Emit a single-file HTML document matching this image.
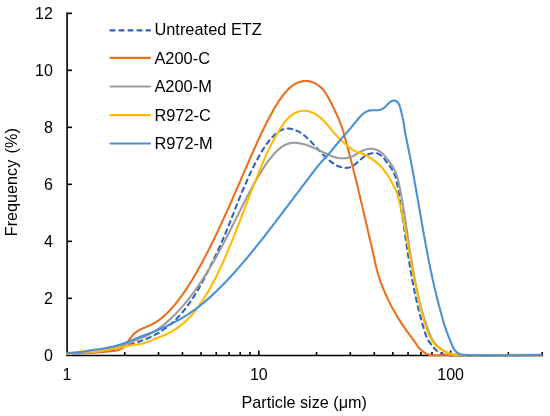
<!DOCTYPE html>
<html><head><meta charset="utf-8"><style>html,body{margin:0;padding:0;background:#fff;width:550px;height:416px;overflow:hidden}svg{display:block}</style></head>
<body><svg width="550" height="416" viewBox="0 0 550 416">
<rect width="550" height="416" fill="#fff"/>
<g stroke="#000" stroke-width="1.6" fill="none" shape-rendering="auto">
<path d="M67.1,12.55 V355.5 H543"/>
<path d="M67.1,298.35 H72"/>
<path d="M67.1,241.35 H72"/>
<path d="M67.1,184.35 H72"/>
<path d="M67.1,127.35 H72"/>
<path d="M67.1,70.35 H72"/>
<path d="M67.1,13.35 H72"/>
<path d="M124.74,355.5 V352.00"/>
<path d="M158.51,355.5 V352.00"/>
<path d="M182.48,355.5 V352.00"/>
<path d="M201.06,355.5 V352.00"/>
<path d="M216.25,355.5 V352.00"/>
<path d="M229.09,355.5 V352.00"/>
<path d="M240.21,355.5 V352.00"/>
<path d="M250.02,355.5 V352.00"/>
<path d="M258.80,355.5 V350.50"/>
<path d="M316.54,355.5 V352.00"/>
<path d="M350.31,355.5 V352.00"/>
<path d="M374.28,355.5 V352.00"/>
<path d="M392.86,355.5 V352.00"/>
<path d="M408.05,355.5 V352.00"/>
<path d="M420.89,355.5 V352.00"/>
<path d="M432.01,355.5 V352.00"/>
<path d="M441.82,355.5 V352.00"/>
<path d="M450.60,355.5 V350.50"/>
<path d="M508.34,355.5 V352.00"/>
<path d="M542.11,355.5 V352.00"/>
</g>
<g font-family="&quot;Liberation Sans&quot;, Arial, sans-serif" font-size="16" fill="#000">
<text x="52.8" y="361.05" text-anchor="end">0</text>
<text x="52.8" y="304.05" text-anchor="end">2</text>
<text x="52.8" y="247.05" text-anchor="end">4</text>
<text x="52.8" y="190.05" text-anchor="end">6</text>
<text x="52.8" y="133.05" text-anchor="end">8</text>
<text x="52.8" y="76.05" text-anchor="end">10</text>
<text x="52.8" y="19.05" text-anchor="end">12</text>
<text x="67.00" y="379.6" text-anchor="middle">1</text>
<text x="258.80" y="379.6" text-anchor="middle">10</text>
<text x="450.60" y="379.6" text-anchor="middle">100</text>
<text x="304.2" y="407.8" text-anchor="middle" font-size="16.2">Particle size (μm)</text>
<text transform="translate(17.3,182.2) rotate(-90)" text-anchor="middle" font-size="16.2">Frequency <tspan dx="1.8">(%)</tspan></text>
</g>
<g fill="none" stroke-width="2.1" stroke-linejoin="round" stroke-linecap="round">
<path d="M67.4,353.5 L68.9,353.5 L70.4,353.5 L71.9,353.5 L73.4,353.4 L74.9,353.4 L76.4,353.4 L77.9,353.4 L79.4,353.3 L80.9,353.2 L82.4,353.2 L83.9,353.1 L85.4,352.9 L86.9,352.8 L88.4,352.7 L89.9,352.5 L91.4,352.4 L92.8,352.2 L94.3,352.0 L95.8,351.9 L97.3,351.7 L98.8,351.5 L100.3,351.3 L101.8,351.0 L103.2,350.8 L104.7,350.5 L106.2,350.2 L107.7,350.0 L109.1,349.7 L110.6,349.4 L112.1,349.1 L113.6,348.8 L115.0,348.5 L116.5,348.1 L117.9,347.8 L119.4,347.4 L120.9,347.1 L122.3,346.7 L123.8,346.3 L125.2,345.9 L126.6,345.5 L128.1,345.1 L129.5,344.6 L131.0,344.2 L132.4,343.7 L133.8,343.3 L135.2,342.8 L136.7,342.4 L138.1,341.9 L139.5,341.4 L140.9,340.9 L142.3,340.4 L143.7,339.8 L145.1,339.3 L146.5,338.7 L147.9,338.2 L149.3,337.6 L150.6,336.9 L152.0,336.3 L153.3,335.6 L154.7,334.9 L156.0,334.2 L157.3,333.5 L158.6,332.8 L159.9,332.0 L161.2,331.2 L162.4,330.4 L163.7,329.5 L164.9,328.7 L166.1,327.8 L167.3,326.9 L168.5,325.9 L169.6,325.0 L170.8,324.0 L171.9,323.0 L173.0,322.0 L174.1,321.0 L175.2,320.0 L176.3,318.9 L177.3,317.9 L178.4,316.8 L179.4,315.7 L180.4,314.6 L181.4,313.4 L182.4,312.3 L183.3,311.1 L184.3,310.0 L185.2,308.8 L186.1,307.6 L187.0,306.4 L187.9,305.2 L188.8,304.0 L189.7,302.8 L190.5,301.5 L191.4,300.3 L192.2,299.1 L193.0,297.8 L193.8,296.5 L194.7,295.3 L195.4,294.0 L196.2,292.7 L197.0,291.5 L197.8,290.2 L198.5,288.9 L199.3,287.6 L200.0,286.3 L200.8,285.0 L201.5,283.6 L202.2,282.3 L202.9,281.0 L203.6,279.7 L204.3,278.3 L205.0,277.0 L205.7,275.7 L206.3,274.3 L207.0,273.0 L207.7,271.7 L208.4,270.3 L209.0,269.0 L209.7,267.6 L210.3,266.3 L211.0,264.9 L211.6,263.6 L212.3,262.2 L213.0,260.9 L213.6,259.5 L214.3,258.2 L214.9,256.8 L215.6,255.5 L216.2,254.1 L216.8,252.8 L217.5,251.4 L218.1,250.0 L218.7,248.7 L219.4,247.3 L220.0,246.0 L220.6,244.6 L221.2,243.2 L221.8,241.8 L222.4,240.5 L223.0,239.1 L223.6,237.7 L224.2,236.3 L224.8,235.0 L225.4,233.6 L225.9,232.2 L226.5,230.8 L227.1,229.4 L227.7,228.0 L228.2,226.6 L228.8,225.2 L229.3,223.8 L229.9,222.4 L230.4,221.1 L231.0,219.7 L231.5,218.3 L232.1,216.9 L232.6,215.5 L233.2,214.1 L233.7,212.7 L234.3,211.3 L234.8,209.9 L235.4,208.5 L235.9,207.1 L236.5,205.7 L237.0,204.3 L237.6,202.9 L238.2,201.5 L238.7,200.1 L239.3,198.7 L239.8,197.4 L240.4,196.0 L241.0,194.6 L241.5,193.2 L242.1,191.8 L242.7,190.4 L243.3,189.0 L243.9,187.7 L244.5,186.3 L245.1,184.9 L245.7,183.5 L246.3,182.2 L246.9,180.8 L247.5,179.4 L248.1,178.0 L248.7,176.7 L249.3,175.3 L250.0,174.0 L250.6,172.6 L251.3,171.2 L251.9,169.9 L252.6,168.5 L253.2,167.2 L253.9,165.9 L254.6,164.5 L255.3,163.2 L256.0,161.9 L256.7,160.5 L257.4,159.2 L258.1,157.9 L258.8,156.6 L259.6,155.3 L260.3,154.0 L261.1,152.7 L261.8,151.4 L262.6,150.1 L263.4,148.9 L264.2,147.6 L265.1,146.3 L265.9,145.1 L266.8,143.9 L267.7,142.7 L268.6,141.5 L269.5,140.3 L270.5,139.2 L271.5,138.0 L272.5,136.9 L273.5,135.9 L274.6,134.8 L275.7,133.8 L276.9,132.9 L278.1,132.0 L279.4,131.1 L280.7,130.4 L282.0,129.8 L283.4,129.2 L284.9,128.9 L286.3,128.6 L287.8,128.5 L289.3,128.6 L290.8,128.8 L292.3,129.1 L293.7,129.5 L295.1,130.0 L296.5,130.6 L297.9,131.2 L299.2,131.9 L300.5,132.7 L301.7,133.5 L302.9,134.4 L304.1,135.3 L305.3,136.3 L306.4,137.3 L307.5,138.3 L308.6,139.3 L309.7,140.4 L310.7,141.4 L311.8,142.5 L312.8,143.6 L313.8,144.7 L314.9,145.8 L315.9,146.9 L316.9,148.0 L317.9,149.1 L318.9,150.2 L319.9,151.3 L321.0,152.4 L322.0,153.5 L323.0,154.6 L324.1,155.7 L325.1,156.7 L326.2,157.7 L327.3,158.7 L328.5,159.7 L329.6,160.7 L330.8,161.6 L332.0,162.5 L333.3,163.3 L334.5,164.2 L335.8,165.0 L337.1,165.7 L338.5,166.3 L339.9,166.8 L341.3,167.3 L342.8,167.6 L344.2,167.8 L345.7,167.9 L347.2,167.8 L348.7,167.6 L350.2,167.2 L351.6,166.7 L352.9,165.9 L354.1,165.1 L355.3,164.2 L356.4,163.2 L357.6,162.3 L358.8,161.3 L359.9,160.3 L361.0,159.3 L362.1,158.3 L363.2,157.3 L364.4,156.4 L365.6,155.5 L367.0,154.8 L368.3,154.3 L369.8,153.8 L371.2,153.5 L372.7,153.2 L374.2,153.0 L375.7,153.1 L377.1,153.4 L378.5,154.0 L379.8,154.7 L381.0,155.6 L382.1,156.6 L383.2,157.6 L384.2,158.7 L385.1,159.9 L386.0,161.1 L386.9,162.3 L387.8,163.6 L388.7,164.8 L389.6,165.9 L390.5,167.1 L391.4,168.4 L392.2,169.6 L392.9,170.9 L393.6,172.2 L394.2,173.6 L394.8,175.0 L395.3,176.4 L395.8,177.8 L396.2,179.3 L396.5,180.7 L396.8,182.2 L397.1,183.7 L397.4,185.2 L397.6,186.6 L397.9,188.1 L398.1,189.6 L398.4,191.1 L398.6,192.6 L398.9,194.0 L399.1,195.5 L399.4,197.0 L399.6,198.5 L399.8,200.0 L400.1,201.4 L400.3,202.9 L400.6,204.4 L400.8,205.9 L401.0,207.4 L401.3,208.8 L401.5,210.3 L401.7,211.8 L401.9,213.3 L402.2,214.8 L402.4,216.3 L402.6,217.7 L402.8,219.2 L403.0,220.7 L403.3,222.2 L403.5,223.7 L403.7,225.2 L403.9,226.6 L404.1,228.1 L404.4,229.6 L404.6,231.1 L404.8,232.6 L405.0,234.1 L405.2,235.6 L405.4,237.0 L405.6,238.5 L405.9,240.0 L406.1,241.5 L406.3,243.0 L406.5,244.5 L406.7,245.9 L407.0,247.4 L407.2,248.9 L407.4,250.4 L407.6,251.9 L407.9,253.4 L408.1,254.8 L408.3,256.3 L408.6,257.8 L408.8,259.3 L409.0,260.8 L409.3,262.2 L409.5,263.7 L409.8,265.2 L410.0,266.7 L410.2,268.2 L410.5,269.6 L410.7,271.1 L411.0,272.6 L411.3,274.1 L411.5,275.6 L411.8,277.0 L412.0,278.5 L412.3,280.0 L412.6,281.5 L412.9,282.9 L413.1,284.4 L413.4,285.9 L413.7,287.4 L414.0,288.8 L414.3,290.3 L414.6,291.8 L414.9,293.2 L415.2,294.7 L415.5,296.2 L415.8,297.6 L416.2,299.1 L416.5,300.6 L416.8,302.0 L417.2,303.5 L417.5,304.9 L417.8,306.4 L418.2,307.9 L418.5,309.3 L418.9,310.8 L419.3,312.2 L419.6,313.7 L420.0,315.1 L420.4,316.6 L420.8,318.0 L421.2,319.5 L421.6,320.9 L422.0,322.4 L422.4,323.8 L422.8,325.3 L423.2,326.7 L423.6,328.2 L424.0,329.6 L424.5,331.0 L424.9,332.5 L425.4,333.9 L426.0,335.3 L426.5,336.7 L427.1,338.1 L427.8,339.4 L428.5,340.7 L429.3,342.0 L430.2,343.2 L431.1,344.4 L432.0,345.6 L433.0,346.7 L433.9,347.9 L435.0,348.9 L436.1,350.0 L437.2,351.0 L438.4,351.9 L439.6,352.7 L440.9,353.4 L442.3,354.0 L443.7,354.5 L445.2,354.9 L446.7,355.1 L448.2,355.2 L449.6,355.3 L451.1,355.4 L452.6,355.5 L454.1,355.5 L455.6,355.6 L457.1,355.6 L458.6,355.6 L460.1,355.7 L461.6,355.7 L463.1,355.7 L464.6,355.7 L466.1,355.7 L467.6,355.7 L469.1,355.7 L470.6,355.7 L472.1,355.7 L473.6,355.7 L475.1,355.7 L476.6,355.7 L478.1,355.7 L479.6,355.7 L481.1,355.6 L482.6,355.6 L484.1,355.6 L485.6,355.6 L487.1,355.6 L488.6,355.6 L490.1,355.6 L491.6,355.5 L493.1,355.5 L494.6,355.5 L496.1,355.5 L497.6,355.5 L499.1,355.4 L500.6,355.4 L502.1,355.4 L503.6,355.4 L505.1,355.4 L506.6,355.3 L508.1,355.3 L509.6,355.3 L511.1,355.3 L512.6,355.3 L514.1,355.2 L515.6,355.2 L517.1,355.2 L518.6,355.2 L520.1,355.2 L521.6,355.1 L523.1,355.1 L524.6,355.1 L526.1,355.1 L527.6,355.1 L529.1,355.1 L530.6,355.1 L532.1,355.0 L533.6,355.0 L535.1,355.0 L536.6,355.0 L538.1,355.0 L539.6,355.0 L541.1,355.0" stroke="#3164BE" stroke-dasharray="4.5 4.5"/>
<path d="M67.4,353.3 L68.9,353.3 L70.4,353.3 L71.9,353.3 L73.4,353.3 L74.9,353.3 L76.4,353.2 L77.9,353.2 L79.4,353.2 L80.9,353.2 L82.4,353.2 L83.9,353.2 L85.4,353.1 L86.9,353.1 L88.4,353.1 L89.9,353.0 L91.4,352.9 L92.9,352.8 L94.4,352.7 L95.9,352.6 L97.4,352.4 L98.9,352.3 L100.4,352.2 L101.9,352.0 L103.3,351.9 L104.8,351.7 L106.3,351.6 L107.8,351.4 L109.3,351.3 L110.8,351.1 L112.3,351.0 L113.8,350.9 L115.3,350.7 L116.8,350.5 L118.2,350.1 L119.6,349.6 L121.0,348.9 L122.3,348.2 L123.5,347.3 L124.6,346.3 L125.5,345.1 L126.5,343.9 L127.3,342.7 L128.1,341.4 L128.9,340.2 L129.7,338.9 L130.6,337.7 L131.6,336.6 L132.6,335.4 L133.6,334.4 L134.7,333.4 L135.9,332.4 L137.1,331.5 L138.4,330.7 L139.7,329.9 L141.0,329.2 L142.3,328.6 L143.7,328.0 L145.1,327.4 L146.5,326.8 L147.8,326.2 L149.2,325.6 L150.6,325.0 L151.9,324.4 L153.3,323.7 L154.6,322.9 L155.9,322.2 L157.1,321.4 L158.4,320.5 L159.6,319.6 L160.8,318.7 L162.0,317.8 L163.1,316.8 L164.2,315.9 L165.3,314.8 L166.4,313.8 L167.5,312.7 L168.5,311.7 L169.6,310.6 L170.6,309.5 L171.6,308.4 L172.6,307.2 L173.6,306.1 L174.5,305.0 L175.5,303.8 L176.4,302.7 L177.4,301.5 L178.3,300.3 L179.2,299.1 L180.1,297.9 L181.0,296.7 L181.9,295.5 L182.8,294.3 L183.6,293.0 L184.5,291.8 L185.3,290.6 L186.2,289.3 L187.0,288.1 L187.8,286.8 L188.6,285.5 L189.4,284.3 L190.2,283.0 L191.0,281.7 L191.8,280.5 L192.6,279.2 L193.3,277.9 L194.1,276.6 L194.9,275.3 L195.6,274.0 L196.4,272.7 L197.1,271.4 L197.9,270.1 L198.6,268.8 L199.3,267.5 L200.0,266.2 L200.8,264.9 L201.5,263.5 L202.2,262.2 L202.9,260.9 L203.6,259.6 L204.3,258.3 L205.0,256.9 L205.7,255.6 L206.4,254.3 L207.1,252.9 L207.8,251.6 L208.5,250.3 L209.1,248.9 L209.8,247.6 L210.5,246.2 L211.1,244.9 L211.8,243.6 L212.5,242.2 L213.1,240.9 L213.8,239.5 L214.4,238.2 L215.1,236.8 L215.7,235.5 L216.4,234.1 L217.0,232.8 L217.7,231.4 L218.3,230.0 L219.0,228.7 L219.6,227.3 L220.2,226.0 L220.9,224.6 L221.5,223.3 L222.1,221.9 L222.8,220.5 L223.4,219.2 L224.0,217.8 L224.6,216.4 L225.3,215.1 L225.9,213.7 L226.5,212.3 L227.1,211.0 L227.7,209.6 L228.4,208.2 L229.0,206.9 L229.6,205.5 L230.2,204.1 L230.8,202.8 L231.4,201.4 L232.0,200.0 L232.6,198.6 L233.2,197.3 L233.8,195.9 L234.4,194.5 L235.0,193.2 L235.6,191.8 L236.2,190.4 L236.8,189.0 L237.4,187.7 L238.0,186.3 L238.6,184.9 L239.2,183.5 L239.8,182.2 L240.4,180.8 L241.0,179.4 L241.6,178.0 L242.2,176.6 L242.8,175.3 L243.4,173.9 L244.0,172.5 L244.6,171.1 L245.2,169.8 L245.8,168.4 L246.4,167.0 L247.0,165.6 L247.6,164.2 L248.2,162.9 L248.7,161.5 L249.3,160.1 L249.9,158.7 L250.5,157.4 L251.1,156.0 L251.7,154.6 L252.3,153.2 L253.0,151.9 L253.6,150.5 L254.2,149.1 L254.8,147.8 L255.4,146.4 L256.0,145.0 L256.6,143.7 L257.2,142.3 L257.9,140.9 L258.5,139.6 L259.1,138.2 L259.8,136.8 L260.4,135.5 L261.0,134.1 L261.7,132.8 L262.3,131.4 L263.0,130.1 L263.6,128.7 L264.3,127.4 L264.9,126.0 L265.6,124.7 L266.3,123.3 L266.9,122.0 L267.6,120.7 L268.3,119.3 L269.0,118.0 L269.7,116.7 L270.4,115.4 L271.2,114.0 L271.9,112.7 L272.6,111.4 L273.4,110.1 L274.1,108.8 L274.9,107.5 L275.6,106.2 L276.4,105.0 L277.2,103.7 L278.0,102.4 L278.9,101.2 L279.7,99.9 L280.5,98.7 L281.4,97.5 L282.3,96.3 L283.2,95.1 L284.2,93.9 L285.1,92.7 L286.1,91.6 L287.1,90.5 L288.1,89.4 L289.2,88.4 L290.3,87.4 L291.5,86.4 L292.7,85.5 L293.9,84.7 L295.2,83.9 L296.5,83.2 L297.9,82.6 L299.3,82.1 L300.8,81.7 L302.2,81.4 L303.7,81.1 L305.2,81.0 L306.7,81.0 L308.2,81.1 L309.7,81.3 L311.1,81.7 L312.6,82.2 L313.9,82.7 L315.3,83.4 L316.6,84.2 L317.8,85.0 L319.0,85.9 L320.2,86.8 L321.3,87.8 L322.4,88.9 L323.4,90.0 L324.3,91.1 L325.2,92.4 L326.0,93.6 L326.8,94.9 L327.5,96.2 L328.3,97.5 L329.0,98.8 L329.7,100.2 L330.4,101.5 L331.1,102.8 L331.8,104.2 L332.4,105.5 L333.1,106.8 L333.7,108.2 L334.4,109.6 L335.0,110.9 L335.6,112.3 L336.3,113.6 L336.9,115.0 L337.5,116.4 L338.1,117.7 L338.7,119.1 L339.3,120.5 L339.8,121.9 L340.4,123.3 L340.9,124.7 L341.5,126.1 L342.0,127.5 L342.5,128.9 L342.9,130.3 L343.4,131.8 L343.7,133.2 L344.1,134.7 L344.5,136.1 L344.9,137.6 L345.3,139.0 L345.7,140.5 L346.1,141.9 L346.5,143.4 L346.9,144.8 L347.3,146.3 L347.7,147.7 L348.1,149.2 L348.5,150.6 L348.9,152.0 L349.2,153.5 L349.6,154.9 L350.0,156.4 L350.4,157.8 L350.8,159.3 L351.1,160.8 L351.5,162.2 L351.9,163.7 L352.3,165.1 L352.6,166.6 L353.0,168.0 L353.4,169.5 L353.7,170.9 L354.1,172.4 L354.5,173.8 L354.8,175.3 L355.2,176.8 L355.5,178.2 L355.9,179.7 L356.3,181.1 L356.6,182.6 L357.0,184.0 L357.3,185.5 L357.7,187.0 L358.0,188.4 L358.4,189.9 L358.7,191.3 L359.1,192.8 L359.4,194.2 L359.8,195.7 L360.1,197.2 L360.4,198.6 L360.8,200.1 L361.1,201.5 L361.5,203.0 L361.8,204.5 L362.2,205.9 L362.5,207.4 L362.8,208.8 L363.2,210.3 L363.5,211.8 L363.9,213.2 L364.2,214.7 L364.5,216.2 L364.9,217.6 L365.2,219.1 L365.6,220.5 L365.9,222.0 L366.2,223.5 L366.6,224.9 L366.9,226.4 L367.3,227.8 L367.6,229.3 L367.9,230.8 L368.3,232.2 L368.6,233.7 L369.0,235.1 L369.3,236.6 L369.6,238.1 L370.0,239.5 L370.3,241.0 L370.7,242.4 L371.0,243.9 L371.4,245.4 L371.7,246.8 L372.1,248.3 L372.4,249.8 L372.7,251.2 L373.0,252.7 L373.3,254.1 L373.6,255.6 L374.0,257.1 L374.3,258.6 L374.6,260.0 L374.9,261.5 L375.2,263.0 L375.5,264.4 L375.9,265.9 L376.2,267.3 L376.6,268.8 L377.0,270.2 L377.4,271.7 L377.8,273.1 L378.3,274.6 L378.7,276.0 L379.2,277.4 L379.6,278.8 L380.1,280.3 L380.6,281.7 L381.1,283.1 L381.7,284.5 L382.2,285.9 L382.7,287.3 L383.3,288.7 L383.9,290.1 L384.4,291.5 L385.0,292.8 L385.6,294.2 L386.2,295.6 L386.9,296.9 L387.5,298.3 L388.1,299.7 L388.8,301.0 L389.5,302.4 L390.1,303.7 L390.8,305.0 L391.5,306.4 L392.2,307.7 L392.9,309.0 L393.7,310.3 L394.4,311.6 L395.1,312.9 L395.9,314.2 L396.7,315.5 L397.4,316.8 L398.2,318.1 L399.0,319.3 L399.8,320.6 L400.6,321.9 L401.4,323.1 L402.2,324.4 L403.1,325.6 L403.9,326.9 L404.8,328.1 L405.6,329.4 L406.5,330.6 L407.4,331.8 L408.2,333.0 L409.1,334.2 L410.0,335.4 L410.9,336.6 L411.8,337.9 L412.7,339.1 L413.6,340.3 L414.5,341.5 L415.3,342.7 L416.2,343.9 L417.0,345.2 L417.9,346.4 L418.8,347.6 L419.7,348.7 L420.8,349.8 L421.9,350.8 L423.1,351.7 L424.3,352.6 L425.6,353.3 L427.0,354.0 L428.4,354.5 L429.8,354.9 L431.3,355.1 L432.8,355.2 L434.3,355.2 L435.8,355.2 L437.3,355.2 L438.8,355.2 L440.3,355.2 L441.8,355.2 L443.3,355.2 L444.8,355.2 L446.3,355.2 L447.8,355.2 L449.3,355.2 L450.8,355.2 L452.3,355.3 L453.8,355.3 L455.3,355.3 L456.8,355.3 L458.3,355.3 L459.8,355.3 L461.3,355.3 L462.8,355.3 L464.3,355.3 L465.8,355.2 L467.3,355.2 L468.8,355.2 L470.3,355.2 L471.8,355.2 L473.3,355.2 L474.8,355.2 L476.3,355.2 L477.8,355.2 L479.3,355.2 L480.8,355.2 L482.3,355.2 L483.8,355.2 L485.3,355.2 L486.8,355.2 L488.3,355.2 L489.8,355.2 L491.3,355.2 L492.8,355.2 L494.3,355.2 L495.8,355.2 L497.3,355.2 L498.8,355.2 L500.3,355.2 L501.8,355.2 L503.3,355.2 L504.8,355.2 L506.3,355.2 L507.8,355.2 L509.3,355.2 L510.8,355.2 L512.3,355.2 L513.8,355.2 L515.3,355.1 L516.8,355.1 L518.3,355.1 L519.8,355.1 L521.3,355.1 L522.8,355.1 L524.3,355.1 L525.8,355.1 L527.3,355.1 L528.8,355.1 L530.3,355.1 L531.8,355.1 L533.3,355.1 L534.8,355.1 L536.3,355.1 L537.8,355.1 L539.3,355.1 L540.8,355.1 L541.3,355.1" stroke="#EB701C"/>
<path d="M67.4,353.6 L68.9,353.6 L70.4,353.6 L71.9,353.6 L73.4,353.5 L74.9,353.5 L76.4,353.5 L77.9,353.5 L79.4,353.4 L80.9,353.4 L82.4,353.3 L83.9,353.2 L85.4,353.0 L86.9,352.9 L88.4,352.8 L89.9,352.6 L91.4,352.4 L92.8,352.3 L94.3,352.1 L95.8,351.9 L97.3,351.7 L98.8,351.4 L100.3,351.1 L101.7,350.8 L103.2,350.5 L104.6,350.2 L106.1,349.8 L107.6,349.4 L109.0,349.1 L110.5,348.7 L111.9,348.3 L113.4,348.0 L114.8,347.6 L116.3,347.2 L117.7,346.8 L119.2,346.4 L120.6,346.0 L122.0,345.5 L123.4,345.0 L124.8,344.4 L126.2,343.9 L127.6,343.3 L129.0,342.7 L130.3,342.1 L131.7,341.5 L133.1,340.9 L134.5,340.4 L135.9,339.9 L137.3,339.4 L138.7,338.9 L140.2,338.4 L141.6,337.8 L143.0,337.3 L144.4,336.7 L145.7,336.1 L147.1,335.5 L148.4,334.8 L149.8,334.1 L151.1,333.4 L152.4,332.6 L153.6,331.9 L154.9,331.1 L156.2,330.2 L157.4,329.4 L158.7,328.6 L159.9,327.7 L161.1,326.8 L162.3,325.9 L163.4,325.0 L164.6,324.0 L165.8,323.1 L166.9,322.1 L168.0,321.1 L169.2,320.1 L170.3,319.1 L171.4,318.1 L172.5,317.0 L173.5,316.0 L174.6,314.9 L175.6,313.9 L176.7,312.8 L177.7,311.7 L178.7,310.6 L179.8,309.5 L180.8,308.4 L181.8,307.2 L182.7,306.1 L183.7,305.0 L184.7,303.8 L185.6,302.7 L186.6,301.5 L187.5,300.3 L188.5,299.2 L189.4,298.0 L190.3,296.8 L191.2,295.6 L192.1,294.4 L193.0,293.2 L193.9,292.0 L194.8,290.8 L195.7,289.6 L196.5,288.4 L197.4,287.1 L198.3,285.9 L199.1,284.7 L199.9,283.4 L200.8,282.2 L201.6,280.9 L202.4,279.7 L203.3,278.4 L204.1,277.2 L204.9,275.9 L205.7,274.6 L206.5,273.4 L207.3,272.1 L208.1,270.8 L208.8,269.5 L209.6,268.2 L210.4,266.9 L211.1,265.7 L211.9,264.4 L212.7,263.1 L213.4,261.8 L214.2,260.5 L214.9,259.2 L215.6,257.9 L216.4,256.6 L217.1,255.2 L217.8,253.9 L218.6,252.6 L219.3,251.3 L220.0,250.0 L220.7,248.7 L221.4,247.3 L222.1,246.0 L222.8,244.7 L223.5,243.4 L224.2,242.0 L224.9,240.7 L225.6,239.4 L226.3,238.0 L226.9,236.7 L227.6,235.3 L228.3,234.0 L229.0,232.7 L229.6,231.3 L230.3,230.0 L231.0,228.7 L231.7,227.3 L232.3,226.0 L233.0,224.6 L233.7,223.3 L234.4,221.9 L235.0,220.6 L235.7,219.3 L236.4,217.9 L237.0,216.6 L237.7,215.2 L238.4,213.9 L239.1,212.6 L239.7,211.2 L240.4,209.9 L241.1,208.5 L241.7,207.2 L242.4,205.9 L243.1,204.5 L243.8,203.2 L244.5,201.9 L245.2,200.5 L245.8,199.2 L246.5,197.9 L247.2,196.5 L247.9,195.2 L248.6,193.9 L249.3,192.5 L250.0,191.2 L250.7,189.9 L251.4,188.6 L252.2,187.2 L252.9,185.9 L253.6,184.6 L254.3,183.3 L255.1,182.0 L255.8,180.7 L256.5,179.4 L257.3,178.1 L258.1,176.8 L258.8,175.5 L259.6,174.2 L260.4,172.9 L261.2,171.7 L262.0,170.4 L262.8,169.1 L263.6,167.9 L264.4,166.6 L265.2,165.4 L266.1,164.1 L267.0,162.9 L267.8,161.7 L268.7,160.5 L269.6,159.3 L270.6,158.1 L271.5,157.0 L272.5,155.8 L273.4,154.7 L274.4,153.6 L275.5,152.5 L276.5,151.4 L277.6,150.3 L278.7,149.3 L279.9,148.4 L281.0,147.4 L282.3,146.6 L283.5,145.8 L284.8,145.0 L286.2,144.4 L287.6,143.9 L289.0,143.4 L290.5,143.1 L292.0,142.9 L293.5,142.8 L295.0,142.8 L296.5,142.9 L297.9,143.1 L299.4,143.3 L300.9,143.6 L302.4,143.9 L303.8,144.2 L305.3,144.6 L306.7,145.1 L308.1,145.6 L309.5,146.1 L310.9,146.6 L312.3,147.2 L313.7,147.8 L315.1,148.4 L316.4,149.0 L317.8,149.7 L319.1,150.3 L320.5,151.0 L321.8,151.6 L323.2,152.3 L324.6,152.9 L325.9,153.5 L327.3,154.2 L328.6,154.8 L330.0,155.4 L331.4,155.9 L332.8,156.5 L334.2,156.9 L335.7,157.4 L337.1,157.7 L338.6,158.0 L340.1,158.2 L341.6,158.3 L343.1,158.3 L344.6,158.3 L346.1,158.1 L347.5,157.9 L349.0,157.5 L350.4,157.1 L351.8,156.6 L353.2,156.0 L354.6,155.3 L355.8,154.5 L357.1,153.7 L358.4,152.9 L359.7,152.2 L361.0,151.5 L362.3,150.8 L363.7,150.2 L365.1,149.7 L366.6,149.3 L368.0,149.0 L369.5,148.8 L371.0,148.7 L372.5,148.8 L374.0,149.0 L375.4,149.4 L376.8,149.9 L378.2,150.5 L379.5,151.3 L380.7,152.1 L381.9,153.0 L383.0,154.0 L384.0,155.1 L385.0,156.3 L386.0,157.4 L386.9,158.6 L387.8,159.8 L388.7,161.0 L389.6,162.2 L390.5,163.4 L391.4,164.6 L392.2,165.8 L393.0,167.1 L393.7,168.4 L394.4,169.8 L395.0,171.1 L395.7,172.5 L396.2,173.9 L396.7,175.3 L397.2,176.7 L397.6,178.2 L398.0,179.6 L398.3,181.1 L398.7,182.5 L399.0,184.0 L399.3,185.5 L399.6,186.9 L399.9,188.4 L400.2,189.9 L400.5,191.4 L400.8,192.8 L401.0,194.3 L401.3,195.8 L401.6,197.3 L401.9,198.7 L402.1,200.2 L402.4,201.7 L402.6,203.2 L402.9,204.6 L403.1,206.1 L403.4,207.6 L403.6,209.1 L403.9,210.6 L404.1,212.0 L404.3,213.5 L404.6,215.0 L404.8,216.5 L405.0,218.0 L405.3,219.5 L405.5,220.9 L405.7,222.4 L405.9,223.9 L406.1,225.4 L406.4,226.9 L406.6,228.4 L406.8,229.8 L407.0,231.3 L407.2,232.8 L407.5,234.3 L407.7,235.8 L407.9,237.3 L408.1,238.7 L408.3,240.2 L408.6,241.7 L408.8,243.2 L409.0,244.7 L409.2,246.2 L409.4,247.6 L409.7,249.1 L409.9,250.6 L410.1,252.1 L410.4,253.6 L410.6,255.1 L410.8,256.5 L411.1,258.0 L411.3,259.5 L411.5,261.0 L411.8,262.5 L412.0,263.9 L412.3,265.4 L412.5,266.9 L412.8,268.4 L413.1,269.9 L413.3,271.3 L413.6,272.8 L413.9,274.3 L414.1,275.8 L414.4,277.2 L414.7,278.7 L415.0,280.2 L415.3,281.6 L415.5,283.1 L415.8,284.6 L416.1,286.1 L416.4,287.5 L416.8,289.0 L417.1,290.5 L417.4,291.9 L417.7,293.4 L418.0,294.9 L418.4,296.3 L418.7,297.8 L419.1,299.2 L419.4,300.7 L419.8,302.2 L420.1,303.6 L420.5,305.1 L420.9,306.5 L421.2,308.0 L421.6,309.4 L422.0,310.9 L422.4,312.3 L422.8,313.8 L423.3,315.2 L423.7,316.6 L424.1,318.1 L424.6,319.5 L425.0,320.9 L425.5,322.3 L426.0,323.8 L426.5,325.2 L427.0,326.6 L427.5,328.0 L428.0,329.4 L428.5,330.8 L429.0,332.2 L429.6,333.6 L430.1,335.0 L430.7,336.4 L431.4,337.8 L432.0,339.1 L432.8,340.4 L433.6,341.7 L434.5,342.9 L435.5,344.0 L436.5,345.1 L437.5,346.2 L438.6,347.2 L439.8,348.1 L441.0,349.0 L442.3,349.8 L443.5,350.6 L444.9,351.4 L446.2,352.0 L447.6,352.6 L449.0,353.2 L450.4,353.6 L451.8,354.0 L453.3,354.4 L454.8,354.6 L456.3,354.8 L457.8,354.9 L459.3,355.0 L460.8,355.1 L462.2,355.1 L463.7,355.2 L465.2,355.2 L466.7,355.3 L468.2,355.3 L469.7,355.3 L471.2,355.3 L472.7,355.3 L474.2,355.3 L475.7,355.3 L477.2,355.4 L478.7,355.4 L480.2,355.4 L481.7,355.4 L483.2,355.4 L484.7,355.3 L486.2,355.3 L487.7,355.3 L489.2,355.3 L490.7,355.3 L492.2,355.3 L493.7,355.3 L495.2,355.3 L496.7,355.3 L498.2,355.3 L499.7,355.3 L501.2,355.3 L502.7,355.2 L504.2,355.2 L505.7,355.2 L507.2,355.2 L508.7,355.2 L510.2,355.2 L511.7,355.2 L513.2,355.2 L514.7,355.1 L516.2,355.1 L517.7,355.1 L519.2,355.1 L520.7,355.1 L522.2,355.1 L523.7,355.1 L525.2,355.1 L526.7,355.1 L528.2,355.0 L529.7,355.0 L531.2,355.0 L532.7,355.0 L534.2,355.0 L535.7,355.0 L537.2,355.0 L538.7,355.0 L540.2,355.0 L541.2,355.0" stroke="#9C9C9C"/>
<path d="M67.4,353.8 L68.9,353.6 L70.4,353.4 L71.8,353.1 L73.3,352.8 L74.8,352.5 L76.2,352.2 L77.7,352.0 L79.2,351.8 L80.7,351.7 L82.2,351.6 L83.7,351.6 L85.2,351.7 L86.7,351.7 L88.2,351.8 L89.7,351.8 L91.2,351.8 L92.7,351.7 L94.2,351.6 L95.7,351.5 L97.2,351.3 L98.7,351.1 L100.2,350.9 L101.6,350.7 L103.1,350.4 L104.6,350.2 L106.1,349.9 L107.6,349.6 L109.0,349.4 L110.5,349.1 L112.0,348.8 L113.5,348.6 L114.9,348.3 L116.4,348.1 L117.9,347.8 L119.4,347.5 L120.8,347.2 L122.3,347.0 L123.8,346.7 L125.3,346.4 L126.7,346.1 L128.2,345.8 L129.7,345.6 L131.2,345.3 L132.6,345.1 L134.1,344.9 L135.6,344.7 L137.1,344.5 L138.6,344.3 L140.1,344.0 L141.5,343.8 L143.0,343.4 L144.5,343.0 L145.9,342.6 L147.3,342.1 L148.7,341.6 L150.1,341.0 L151.5,340.4 L152.9,339.9 L154.2,339.3 L155.6,338.7 L157.0,338.1 L158.4,337.5 L159.8,337.0 L161.2,336.4 L162.6,335.9 L164.0,335.3 L165.3,334.7 L166.7,334.0 L168.0,333.4 L169.4,332.7 L170.7,332.0 L172.0,331.3 L173.3,330.5 L174.6,329.7 L175.8,328.9 L177.1,328.1 L178.3,327.2 L179.5,326.3 L180.7,325.4 L181.9,324.5 L183.1,323.5 L184.2,322.6 L185.3,321.6 L186.4,320.6 L187.5,319.5 L188.5,318.4 L189.6,317.4 L190.6,316.3 L191.6,315.2 L192.6,314.0 L193.6,312.9 L194.5,311.7 L195.5,310.6 L196.4,309.4 L197.3,308.2 L198.2,307.0 L199.1,305.8 L199.9,304.5 L200.8,303.3 L201.6,302.1 L202.4,300.8 L203.3,299.5 L204.1,298.3 L204.9,297.0 L205.6,295.7 L206.4,294.4 L207.2,293.2 L208.0,291.9 L208.7,290.6 L209.4,289.3 L210.2,288.0 L210.9,286.6 L211.6,285.3 L212.3,284.0 L213.0,282.7 L213.7,281.3 L214.4,280.0 L215.1,278.7 L215.8,277.3 L216.5,276.0 L217.1,274.7 L217.8,273.3 L218.4,272.0 L219.1,270.6 L219.7,269.3 L220.4,267.9 L221.0,266.5 L221.6,265.2 L222.3,263.8 L222.9,262.4 L223.5,261.1 L224.1,259.7 L224.7,258.3 L225.3,257.0 L225.9,255.6 L226.5,254.2 L227.1,252.8 L227.7,251.5 L228.3,250.1 L228.8,248.7 L229.4,247.3 L230.0,245.9 L230.6,244.5 L231.1,243.1 L231.7,241.7 L232.3,240.4 L232.8,239.0 L233.4,237.6 L233.9,236.2 L234.5,234.8 L235.0,233.4 L235.6,232.0 L236.1,230.6 L236.7,229.2 L237.2,227.8 L237.8,226.4 L238.3,225.0 L238.9,223.6 L239.4,222.2 L239.9,220.8 L240.5,219.4 L241.0,218.0 L241.6,216.6 L242.1,215.2 L242.6,213.8 L243.2,212.4 L243.7,211.0 L244.2,209.6 L244.8,208.2 L245.3,206.8 L245.8,205.4 L246.4,204.0 L246.9,202.6 L247.5,201.2 L248.0,199.8 L248.5,198.4 L249.1,197.0 L249.6,195.6 L250.1,194.2 L250.7,192.8 L251.2,191.4 L251.8,190.0 L252.3,188.6 L252.9,187.2 L253.4,185.8 L254.0,184.4 L254.5,183.0 L255.1,181.6 L255.6,180.2 L256.2,178.8 L256.7,177.4 L257.3,176.1 L257.8,174.7 L258.4,173.3 L259.0,171.9 L259.5,170.5 L260.1,169.1 L260.7,167.7 L261.3,166.3 L261.8,165.0 L262.4,163.6 L263.0,162.2 L263.6,160.8 L264.2,159.4 L264.8,158.1 L265.4,156.7 L266.0,155.3 L266.6,153.9 L267.2,152.6 L267.9,151.2 L268.5,149.9 L269.2,148.5 L269.8,147.2 L270.5,145.8 L271.2,144.5 L271.9,143.2 L272.6,141.9 L273.3,140.5 L274.0,139.2 L274.8,137.9 L275.5,136.6 L276.2,135.3 L277.0,134.0 L277.8,132.7 L278.5,131.4 L279.3,130.2 L280.1,128.9 L280.9,127.6 L281.8,126.4 L282.6,125.1 L283.5,123.9 L284.4,122.7 L285.3,121.5 L286.3,120.4 L287.2,119.2 L288.3,118.1 L289.3,117.1 L290.4,116.1 L291.6,115.1 L292.8,114.3 L294.1,113.5 L295.4,112.8 L296.8,112.2 L298.2,111.7 L299.6,111.3 L301.1,111.0 L302.6,110.8 L304.1,110.8 L305.6,110.8 L307.1,111.0 L308.6,111.3 L310.0,111.7 L311.4,112.2 L312.8,112.8 L314.1,113.4 L315.5,114.1 L316.7,114.9 L318.0,115.8 L319.2,116.7 L320.3,117.6 L321.5,118.6 L322.6,119.6 L323.6,120.7 L324.7,121.7 L325.7,122.8 L326.7,123.9 L327.7,125.1 L328.7,126.2 L329.6,127.4 L330.6,128.5 L331.5,129.7 L332.4,130.9 L333.4,132.1 L334.3,133.2 L335.3,134.3 L336.4,135.4 L337.4,136.5 L338.4,137.6 L339.5,138.7 L340.6,139.7 L341.6,140.7 L342.7,141.8 L343.8,142.8 L345.0,143.8 L346.1,144.8 L347.2,145.7 L348.4,146.7 L349.6,147.6 L350.9,148.4 L352.1,149.3 L353.4,150.1 L354.7,150.8 L356.0,151.5 L357.3,152.1 L358.7,152.7 L360.2,153.1 L361.6,153.5 L363.0,154.0 L364.5,154.5 L365.8,155.1 L367.1,155.8 L368.4,156.6 L369.7,157.4 L370.9,158.3 L372.2,159.1 L373.4,160.0 L374.6,160.9 L375.8,161.8 L377.0,162.7 L378.1,163.6 L379.2,164.7 L380.3,165.7 L381.3,166.8 L382.2,168.0 L383.2,169.2 L384.1,170.4 L385.0,171.6 L385.9,172.8 L386.8,174.0 L387.6,175.2 L388.4,176.5 L389.2,177.7 L390.0,179.0 L390.7,180.3 L391.4,181.7 L392.1,183.0 L392.8,184.3 L393.6,185.6 L394.3,186.9 L395.0,188.3 L395.7,189.6 L396.3,191.0 L396.8,192.4 L397.3,193.8 L397.7,195.2 L398.1,196.7 L398.5,198.1 L398.8,199.6 L399.2,201.1 L399.5,202.5 L399.8,204.0 L400.2,205.4 L400.5,206.9 L400.8,208.4 L401.1,209.8 L401.4,211.3 L401.8,212.8 L402.1,214.2 L402.4,215.7 L402.7,217.2 L403.0,218.6 L403.3,220.1 L403.6,221.6 L403.9,223.1 L404.2,224.5 L404.4,226.0 L404.7,227.5 L405.0,228.9 L405.3,230.4 L405.6,231.9 L405.9,233.4 L406.1,234.8 L406.4,236.3 L406.7,237.8 L406.9,239.3 L407.2,240.7 L407.5,242.2 L407.8,243.7 L408.0,245.2 L408.3,246.6 L408.6,248.1 L408.8,249.6 L409.1,251.1 L409.3,252.5 L409.6,254.0 L409.9,255.5 L410.1,257.0 L410.4,258.5 L410.7,259.9 L410.9,261.4 L411.2,262.9 L411.5,264.4 L411.8,265.8 L412.0,267.3 L412.3,268.8 L412.6,270.3 L412.9,271.7 L413.1,273.2 L413.4,274.7 L413.7,276.1 L414.0,277.6 L414.3,279.1 L414.6,280.6 L414.9,282.0 L415.2,283.5 L415.5,285.0 L415.8,286.4 L416.1,287.9 L416.4,289.4 L416.7,290.8 L417.0,292.3 L417.3,293.8 L417.7,295.2 L418.0,296.7 L418.3,298.2 L418.7,299.6 L419.0,301.1 L419.4,302.5 L419.7,304.0 L420.1,305.5 L420.4,306.9 L420.8,308.4 L421.2,309.8 L421.5,311.3 L421.9,312.7 L422.3,314.2 L422.7,315.6 L423.1,317.1 L423.5,318.5 L423.9,320.0 L424.3,321.4 L424.7,322.8 L425.2,324.3 L425.6,325.7 L426.1,327.1 L426.5,328.6 L427.0,330.0 L427.5,331.4 L428.1,332.8 L428.7,334.2 L429.3,335.5 L430.0,336.9 L430.7,338.2 L431.4,339.5 L432.2,340.8 L433.0,342.0 L434.0,343.2 L434.9,344.3 L436.0,345.4 L437.1,346.4 L438.2,347.4 L439.4,348.3 L440.6,349.2 L441.9,350.0 L443.2,350.8 L444.5,351.5 L445.8,352.2 L447.2,352.8 L448.6,353.3 L450.0,353.7 L451.5,354.1 L453.0,354.4 L454.4,354.6 L455.9,354.8 L457.4,354.9 L458.9,355.0 L460.4,355.1 L461.9,355.1 L463.4,355.2 L464.9,355.2 L466.4,355.2 L467.9,355.2 L469.4,355.3 L470.9,355.3 L472.4,355.3 L473.9,355.3 L475.4,355.3 L476.9,355.3 L478.4,355.3 L479.9,355.3 L481.4,355.2 L482.9,355.2 L484.4,355.2 L485.9,355.2 L487.4,355.2 L488.9,355.2 L490.4,355.2 L491.9,355.2 L493.4,355.1 L494.9,355.1 L496.4,355.1 L497.9,355.1 L499.4,355.1 L500.9,355.1 L502.4,355.0 L503.9,355.0 L505.4,355.0 L506.9,355.0 L508.4,355.0 L509.9,354.9 L511.4,354.9 L512.9,354.9 L514.4,354.9 L515.9,354.9 L517.4,354.8 L518.9,354.8 L520.4,354.8 L521.9,354.8 L523.4,354.8 L524.9,354.7 L526.4,354.7 L527.9,354.7 L529.4,354.7 L530.9,354.7 L532.4,354.7 L533.9,354.7 L535.4,354.6 L536.9,354.6 L538.4,354.6 L539.9,354.6 L540.9,354.6" stroke="#FFBA00"/>
<path d="M67.4,352.7 L68.9,352.7 L70.4,352.7 L71.9,352.7 L73.4,352.7 L74.9,352.6 L76.4,352.5 L77.9,352.3 L79.4,352.2 L80.9,352.0 L82.3,351.7 L83.8,351.5 L85.3,351.2 L86.8,351.0 L88.2,350.7 L89.7,350.4 L91.2,350.2 L92.7,350.0 L94.2,349.8 L95.7,349.6 L97.2,349.4 L98.6,349.2 L100.1,349.0 L101.6,348.7 L103.1,348.5 L104.6,348.2 L106.0,348.0 L107.5,347.7 L109.0,347.4 L110.5,347.1 L111.9,346.8 L113.4,346.4 L114.8,346.1 L116.3,345.7 L117.7,345.3 L119.2,344.8 L120.6,344.4 L122.0,343.9 L123.4,343.4 L124.9,342.9 L126.3,342.4 L127.7,341.9 L129.1,341.4 L130.5,340.8 L131.9,340.3 L133.2,339.7 L134.6,339.1 L136.0,338.5 L137.4,338.0 L138.8,337.4 L140.2,336.8 L141.6,336.3 L143.0,335.8 L144.4,335.3 L145.8,334.8 L147.2,334.3 L148.6,333.8 L150.0,333.2 L151.4,332.7 L152.8,332.1 L154.2,331.5 L155.6,331.0 L157.0,330.4 L158.4,329.8 L159.7,329.2 L161.1,328.6 L162.5,328.0 L163.9,327.4 L165.2,326.8 L166.6,326.1 L167.9,325.5 L169.3,324.8 L170.6,324.2 L172.0,323.5 L173.3,322.8 L174.6,322.1 L176.0,321.4 L177.3,320.7 L178.6,320.0 L179.9,319.3 L181.2,318.5 L182.5,317.7 L183.8,317.0 L185.1,316.2 L186.3,315.4 L187.6,314.6 L188.9,313.8 L190.1,312.9 L191.3,312.1 L192.6,311.2 L193.8,310.4 L195.0,309.5 L196.2,308.6 L197.4,307.7 L198.6,306.8 L199.8,305.8 L201.0,304.9 L202.1,304.0 L203.3,303.0 L204.4,302.1 L205.6,301.1 L206.7,300.1 L207.8,299.1 L209.0,298.1 L210.1,297.1 L211.2,296.1 L212.3,295.1 L213.4,294.1 L214.5,293.1 L215.6,292.0 L216.7,291.0 L217.7,289.9 L218.8,288.9 L219.9,287.8 L220.9,286.8 L222.0,285.7 L223.0,284.6 L224.1,283.6 L225.1,282.5 L226.2,281.4 L227.2,280.3 L228.2,279.2 L229.2,278.1 L230.3,277.0 L231.3,275.9 L232.3,274.8 L233.3,273.7 L234.3,272.6 L235.3,271.5 L236.3,270.3 L237.3,269.2 L238.3,268.1 L239.3,266.9 L240.2,265.8 L241.2,264.7 L242.2,263.5 L243.2,262.4 L244.1,261.3 L245.1,260.1 L246.1,259.0 L247.0,257.8 L248.0,256.7 L249.0,255.5 L249.9,254.3 L250.9,253.2 L251.8,252.0 L252.8,250.9 L253.7,249.7 L254.7,248.5 L255.6,247.4 L256.5,246.2 L257.5,245.0 L258.4,243.9 L259.3,242.7 L260.3,241.5 L261.2,240.3 L262.1,239.2 L263.1,238.0 L264.0,236.8 L264.9,235.6 L265.8,234.4 L266.8,233.2 L267.7,232.1 L268.6,230.9 L269.5,229.7 L270.4,228.5 L271.3,227.3 L272.3,226.1 L273.2,224.9 L274.1,223.7 L275.0,222.6 L275.9,221.4 L276.8,220.2 L277.7,219.0 L278.6,217.8 L279.5,216.6 L280.4,215.4 L281.4,214.2 L282.3,213.0 L283.2,211.8 L284.1,210.6 L285.0,209.4 L285.9,208.2 L286.8,207.0 L287.7,205.8 L288.6,204.6 L289.5,203.4 L290.4,202.2 L291.3,201.0 L292.2,199.8 L293.1,198.6 L294.0,197.4 L294.9,196.2 L295.8,195.0 L296.7,193.8 L297.6,192.6 L298.5,191.4 L299.4,190.3 L300.3,189.1 L301.2,187.9 L302.1,186.7 L303.0,185.5 L303.9,184.3 L304.9,183.1 L305.8,181.9 L306.7,180.7 L307.6,179.5 L308.5,178.3 L309.4,177.1 L310.3,175.9 L311.2,174.7 L312.1,173.5 L313.0,172.3 L313.9,171.1 L314.8,169.9 L315.8,168.8 L316.7,167.6 L317.6,166.4 L318.5,165.2 L319.5,164.1 L320.5,162.9 L321.5,161.8 L322.5,160.7 L323.5,159.6 L324.5,158.5 L325.5,157.4 L326.5,156.3 L327.6,155.2 L328.6,154.1 L329.6,153.0 L330.6,151.8 L331.6,150.7 L332.5,149.5 L333.4,148.4 L334.4,147.2 L335.3,146.0 L336.2,144.8 L337.2,143.7 L338.1,142.5 L339.1,141.3 L340.0,140.2 L341.0,139.1 L342.0,137.9 L343.0,136.8 L344.0,135.7 L345.0,134.6 L346.0,133.4 L347.0,132.3 L348.0,131.2 L349.0,130.1 L349.9,128.9 L350.9,127.8 L351.9,126.6 L352.8,125.5 L353.8,124.3 L354.7,123.2 L355.7,122.0 L356.6,120.8 L357.6,119.7 L358.5,118.5 L359.5,117.4 L360.5,116.3 L361.6,115.2 L362.7,114.2 L363.8,113.2 L365.1,112.4 L366.4,111.7 L367.7,111.1 L369.2,110.6 L370.6,110.4 L372.1,110.2 L373.6,110.2 L375.1,110.3 L376.6,110.3 L378.1,110.2 L379.6,110.0 L381.0,109.6 L382.4,109.0 L383.6,108.1 L384.8,107.2 L385.9,106.2 L386.9,105.1 L387.9,104.0 L388.9,102.9 L390.1,102.0 L391.4,101.2 L392.7,100.6 L394.2,100.5 L395.6,100.8 L396.9,101.6 L397.9,102.6 L398.7,103.9 L399.4,105.3 L399.9,106.7 L400.3,108.1 L400.7,109.5 L401.1,111.0 L401.4,112.5 L401.8,113.9 L402.1,115.4 L402.4,116.8 L402.8,118.3 L403.1,119.8 L403.4,121.2 L403.7,122.7 L403.9,124.2 L404.1,125.7 L404.3,127.2 L404.5,128.7 L404.7,130.1 L404.9,131.6 L405.2,133.1 L405.5,134.6 L405.8,136.0 L406.1,137.5 L406.4,139.0 L406.7,140.4 L407.0,141.9 L407.3,143.4 L407.6,144.8 L407.9,146.3 L408.2,147.8 L408.5,149.3 L408.8,150.7 L409.1,152.2 L409.4,153.7 L409.7,155.1 L410.0,156.6 L410.3,158.1 L410.6,159.6 L410.9,161.0 L411.1,162.5 L411.4,164.0 L411.7,165.4 L412.0,166.9 L412.2,168.4 L412.5,169.9 L412.8,171.3 L413.1,172.8 L413.3,174.3 L413.6,175.8 L413.9,177.3 L414.1,178.7 L414.4,180.2 L414.7,181.7 L414.9,183.2 L415.2,184.6 L415.4,186.1 L415.7,187.6 L416.0,189.1 L416.2,190.5 L416.5,192.0 L416.7,193.5 L417.0,195.0 L417.3,196.5 L417.5,197.9 L417.8,199.4 L418.0,200.9 L418.3,202.4 L418.5,203.8 L418.8,205.3 L419.0,206.8 L419.3,208.3 L419.5,209.8 L419.8,211.2 L420.1,212.7 L420.3,214.2 L420.6,215.7 L420.8,217.1 L421.1,218.6 L421.3,220.1 L421.6,221.6 L421.8,223.1 L422.1,224.5 L422.4,226.0 L422.6,227.5 L422.9,229.0 L423.1,230.4 L423.4,231.9 L423.7,233.4 L423.9,234.9 L424.2,236.4 L424.5,237.8 L424.7,239.3 L425.0,240.8 L425.3,242.3 L425.6,243.7 L425.8,245.2 L426.1,246.7 L426.4,248.2 L426.7,249.6 L426.9,251.1 L427.2,252.6 L427.5,254.0 L427.8,255.5 L428.1,257.0 L428.4,258.5 L428.6,259.9 L428.9,261.4 L429.2,262.9 L429.5,264.3 L429.8,265.8 L430.1,267.3 L430.4,268.8 L430.7,270.2 L431.1,271.7 L431.4,273.2 L431.7,274.6 L432.0,276.1 L432.3,277.6 L432.6,279.0 L433.0,280.5 L433.3,282.0 L433.6,283.4 L433.9,284.9 L434.3,286.3 L434.6,287.8 L435.0,289.3 L435.3,290.7 L435.7,292.2 L436.0,293.6 L436.4,295.1 L436.7,296.6 L437.1,298.0 L437.4,299.5 L437.8,300.9 L438.2,302.4 L438.6,303.8 L438.9,305.3 L439.3,306.7 L439.7,308.2 L440.1,309.6 L440.5,311.1 L440.9,312.5 L441.3,314.0 L441.7,315.4 L442.1,316.9 L442.5,318.3 L442.9,319.7 L443.3,321.2 L443.7,322.6 L444.2,324.1 L444.6,325.5 L445.1,326.9 L445.5,328.4 L446.0,329.8 L446.5,331.2 L447.1,332.6 L447.6,334.0 L448.1,335.4 L448.7,336.8 L449.2,338.2 L449.8,339.6 L450.3,341.0 L450.9,342.3 L451.5,343.7 L452.1,345.1 L452.7,346.5 L453.3,347.8 L454.0,349.2 L454.9,350.4 L455.9,351.5 L457.0,352.5 L458.3,353.3 L459.6,353.9 L461.0,354.4 L462.5,354.7 L464.0,354.8 L465.5,354.9 L467.0,355.0 L468.5,355.1 L470.0,355.2 L471.5,355.2 L473.0,355.2 L474.5,355.3 L476.0,355.3 L477.5,355.3 L479.0,355.3 L480.5,355.3 L482.0,355.4 L483.5,355.4 L485.0,355.4 L486.5,355.4 L488.0,355.4 L489.5,355.4 L491.0,355.4 L492.5,355.4 L494.0,355.4 L495.5,355.3 L497.0,355.3 L498.5,355.3 L500.0,355.3 L501.5,355.3 L503.0,355.3 L504.5,355.3 L506.0,355.3 L507.5,355.3 L509.0,355.3 L510.5,355.2 L512.0,355.2 L513.5,355.2 L515.0,355.2 L516.5,355.2 L518.0,355.2 L519.5,355.2 L521.0,355.2 L522.5,355.2 L524.0,355.2 L525.5,355.1 L527.0,355.1 L528.5,355.1 L530.0,355.1 L531.5,355.1 L533.0,355.1 L534.5,355.1 L536.0,355.1 L537.5,355.1 L539.0,355.1 L540.5,355.1 L541.0,355.1" stroke="#4B91D1"/>
</g>
<g font-family="&quot;Liberation Sans&quot;, Arial, sans-serif" font-size="16.4" fill="#000">
<path d="M110.5,30.40 H150" stroke="#3164BE" stroke-width="2.2" stroke-linecap="round" stroke-dasharray="4 5"/>
<text x="154.4" y="35.40">Untreated ETZ</text>
<path d="M110.5,57.80 H150" stroke="#EB701C" stroke-width="2.2" stroke-linecap="round"/>
<text x="154.4" y="63.85">A200-C</text>
<path d="M110.5,86.50 H150" stroke="#9C9C9C" stroke-width="2.2" stroke-linecap="round"/>
<text x="154.4" y="92.30">A200-M</text>
<path d="M110.5,115.10 H150" stroke="#FFBA00" stroke-width="2.2" stroke-linecap="round"/>
<text x="154.4" y="120.75">R972-C</text>
<path d="M110.5,143.50 H150" stroke="#4B91D1" stroke-width="2.2" stroke-linecap="round"/>
<text x="154.4" y="149.20">R972-M</text>
</g>
</svg></body></html>
